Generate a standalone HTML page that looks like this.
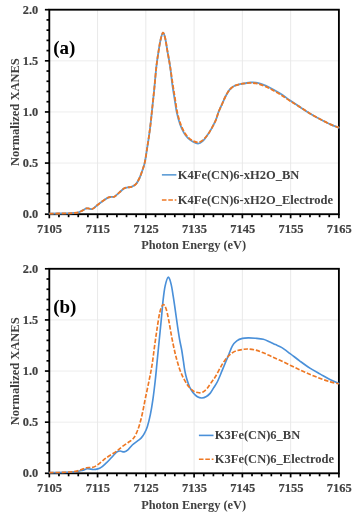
<!DOCTYPE html>
<html><head><meta charset="utf-8"><title>XANES</title>
<style>
html,body{margin:0;padding:0;background:#fff;}
svg{display:block;}
text{font-family:"Liberation Serif",serif;font-weight:bold;}
.g{stroke:#e3e3e3;stroke-width:0.8;}
.gh{stroke:#e9e9e9;stroke-width:0.8;}
.t{stroke:#000;stroke-width:1.7;}
.f{fill:none;stroke:#000;stroke-width:1.85;}
.tl{font-size:12.1px;fill:#404040;stroke:#404040;stroke-width:0.15px;}
.ti{font-size:12.35px;fill:#404040;}
.ty{font-size:13.3px;fill:#404040;}
.lg{font-size:12.5px;fill:#404040;}
.lab{font-size:19px;fill:#000;}
</style></head>
<body>
<svg width="357" height="517" viewBox="0 0 357 517">
<rect width="357" height="517" fill="#fff"/>
<line x1="97.57" y1="9.7" x2="97.57" y2="214.2" class="g"/>
<line x1="145.83" y1="9.7" x2="145.83" y2="214.2" class="g"/>
<line x1="194.10" y1="9.7" x2="194.10" y2="214.2" class="g"/>
<line x1="242.37" y1="9.7" x2="242.37" y2="214.2" class="g"/>
<line x1="290.63" y1="9.7" x2="290.63" y2="214.2" class="g"/>
<line x1="49.3" y1="163.07" x2="338.9" y2="163.07" class="gh"/>
<line x1="49.3" y1="111.95" x2="338.9" y2="111.95" class="gh"/>
<line x1="49.3" y1="60.82" x2="338.9" y2="60.82" class="gh"/>
<line x1="49.30" y1="214.2" x2="49.30" y2="218.30" class="t"/>
<line x1="58.95" y1="214.2" x2="58.95" y2="217.20" class="t"/>
<line x1="68.61" y1="214.2" x2="68.61" y2="217.20" class="t"/>
<line x1="78.26" y1="214.2" x2="78.26" y2="217.20" class="t"/>
<line x1="87.91" y1="214.2" x2="87.91" y2="217.20" class="t"/>
<line x1="97.57" y1="214.2" x2="97.57" y2="218.30" class="t"/>
<line x1="107.22" y1="214.2" x2="107.22" y2="217.20" class="t"/>
<line x1="116.87" y1="214.2" x2="116.87" y2="217.20" class="t"/>
<line x1="126.53" y1="214.2" x2="126.53" y2="217.20" class="t"/>
<line x1="136.18" y1="214.2" x2="136.18" y2="217.20" class="t"/>
<line x1="145.83" y1="214.2" x2="145.83" y2="218.30" class="t"/>
<line x1="155.49" y1="214.2" x2="155.49" y2="217.20" class="t"/>
<line x1="165.14" y1="214.2" x2="165.14" y2="217.20" class="t"/>
<line x1="174.79" y1="214.2" x2="174.79" y2="217.20" class="t"/>
<line x1="184.45" y1="214.2" x2="184.45" y2="217.20" class="t"/>
<line x1="194.10" y1="214.2" x2="194.10" y2="218.30" class="t"/>
<line x1="203.75" y1="214.2" x2="203.75" y2="217.20" class="t"/>
<line x1="213.41" y1="214.2" x2="213.41" y2="217.20" class="t"/>
<line x1="223.06" y1="214.2" x2="223.06" y2="217.20" class="t"/>
<line x1="232.71" y1="214.2" x2="232.71" y2="217.20" class="t"/>
<line x1="242.37" y1="214.2" x2="242.37" y2="218.30" class="t"/>
<line x1="252.02" y1="214.2" x2="252.02" y2="217.20" class="t"/>
<line x1="261.67" y1="214.2" x2="261.67" y2="217.20" class="t"/>
<line x1="271.33" y1="214.2" x2="271.33" y2="217.20" class="t"/>
<line x1="280.98" y1="214.2" x2="280.98" y2="217.20" class="t"/>
<line x1="290.63" y1="214.2" x2="290.63" y2="218.30" class="t"/>
<line x1="300.29" y1="214.2" x2="300.29" y2="217.20" class="t"/>
<line x1="309.94" y1="214.2" x2="309.94" y2="217.20" class="t"/>
<line x1="319.59" y1="214.2" x2="319.59" y2="217.20" class="t"/>
<line x1="329.25" y1="214.2" x2="329.25" y2="217.20" class="t"/>
<line x1="338.90" y1="214.2" x2="338.90" y2="218.30" class="t"/>
<line x1="44.90" y1="214.20" x2="49.3" y2="214.20" class="t"/>
<line x1="46.50" y1="203.97" x2="49.3" y2="203.97" class="t"/>
<line x1="46.50" y1="193.75" x2="49.3" y2="193.75" class="t"/>
<line x1="46.50" y1="183.52" x2="49.3" y2="183.52" class="t"/>
<line x1="46.50" y1="173.30" x2="49.3" y2="173.30" class="t"/>
<line x1="44.90" y1="163.07" x2="49.3" y2="163.07" class="t"/>
<line x1="46.50" y1="152.85" x2="49.3" y2="152.85" class="t"/>
<line x1="46.50" y1="142.62" x2="49.3" y2="142.62" class="t"/>
<line x1="46.50" y1="132.40" x2="49.3" y2="132.40" class="t"/>
<line x1="46.50" y1="122.17" x2="49.3" y2="122.17" class="t"/>
<line x1="44.90" y1="111.95" x2="49.3" y2="111.95" class="t"/>
<line x1="46.50" y1="101.72" x2="49.3" y2="101.72" class="t"/>
<line x1="46.50" y1="91.50" x2="49.3" y2="91.50" class="t"/>
<line x1="46.50" y1="81.27" x2="49.3" y2="81.27" class="t"/>
<line x1="46.50" y1="71.05" x2="49.3" y2="71.05" class="t"/>
<line x1="44.90" y1="60.82" x2="49.3" y2="60.82" class="t"/>
<line x1="46.50" y1="50.60" x2="49.3" y2="50.60" class="t"/>
<line x1="46.50" y1="40.38" x2="49.3" y2="40.38" class="t"/>
<line x1="46.50" y1="30.15" x2="49.3" y2="30.15" class="t"/>
<line x1="46.50" y1="19.92" x2="49.3" y2="19.92" class="t"/>
<line x1="44.90" y1="9.70" x2="49.3" y2="9.70" class="t"/>
<rect x="49.3" y="9.7" width="289.59999999999997" height="204.50" class="f"/>
<path d="M49.30,213.60 C51.95,213.57 61.08,213.50 65.20,213.40 C69.32,213.30 71.78,213.18 74.00,213.00 C76.22,212.82 77.12,212.70 78.50,212.30 C79.88,211.90 81.00,211.25 82.30,210.60 C83.60,209.95 85.18,208.73 86.30,208.40 C87.42,208.07 88.08,208.47 89.00,208.60 C89.92,208.73 90.88,209.37 91.80,209.20 C92.72,209.03 93.50,208.35 94.50,207.60 C95.50,206.85 96.17,205.98 97.80,204.70 C99.43,203.42 102.50,201.12 104.30,199.90 C106.10,198.68 107.40,197.90 108.60,197.40 C109.80,196.90 110.48,197.05 111.50,196.90 C112.52,196.75 113.42,197.22 114.70,196.50 C115.98,195.78 117.60,193.97 119.20,192.60 C120.80,191.23 122.88,189.17 124.30,188.30 C125.72,187.43 126.52,187.65 127.70,187.40 C128.88,187.15 130.03,187.35 131.40,186.80 C132.77,186.25 134.58,185.48 135.90,184.10 C137.22,182.72 138.22,180.78 139.30,178.50 C140.38,176.22 141.48,173.08 142.40,170.40 C143.32,167.72 144.07,165.75 144.80,162.40 C145.53,159.05 146.10,154.68 146.80,150.30 C147.50,145.92 148.33,140.82 149.00,136.10 C149.67,131.38 150.27,126.57 150.80,122.00 C151.33,117.43 151.62,114.27 152.20,108.70 C152.78,103.13 153.60,95.65 154.30,88.60 C155.00,81.55 155.67,72.78 156.40,66.40 C157.13,60.02 157.98,54.83 158.70,50.30 C159.42,45.77 159.98,42.15 160.70,39.20 C161.42,36.25 162.25,32.77 163.00,32.60 C163.75,32.43 164.48,35.25 165.20,38.20 C165.92,41.15 166.48,45.60 167.30,50.30 C168.12,55.00 169.25,60.60 170.10,66.40 C170.95,72.20 171.65,79.67 172.40,85.10 C173.15,90.53 173.87,94.42 174.60,99.00 C175.33,103.58 175.87,108.32 176.80,112.60 C177.73,116.88 178.98,121.28 180.20,124.70 C181.42,128.12 182.80,130.85 184.10,133.10 C185.40,135.35 186.60,136.80 188.00,138.20 C189.40,139.60 190.83,140.60 192.50,141.50 C194.17,142.40 196.30,143.67 198.00,143.60 C199.70,143.53 201.15,142.48 202.70,141.10 C204.25,139.72 205.83,137.38 207.30,135.30 C208.77,133.22 210.10,131.08 211.50,128.60 C212.90,126.12 214.53,123.13 215.70,120.40 C216.87,117.67 217.40,115.00 218.50,112.20 C219.60,109.40 221.22,106.05 222.30,103.60 C223.38,101.15 224.10,99.37 225.00,97.50 C225.90,95.63 226.73,93.90 227.70,92.40 C228.67,90.90 229.63,89.62 230.80,88.50 C231.97,87.38 233.22,86.42 234.70,85.70 C236.18,84.98 237.98,84.60 239.70,84.20 C241.42,83.80 243.23,83.58 245.00,83.30 C246.77,83.02 248.20,82.58 250.30,82.50 C252.40,82.42 255.05,82.28 257.60,82.80 C260.15,83.32 262.92,84.45 265.60,85.60 C268.28,86.75 271.00,88.22 273.70,89.70 C276.40,91.18 279.05,92.68 281.80,94.50 C284.55,96.32 287.13,98.48 290.20,100.60 C293.27,102.72 296.85,105.02 300.20,107.20 C303.55,109.38 306.95,111.68 310.30,113.70 C313.65,115.72 316.95,117.52 320.30,119.30 C323.65,121.08 327.30,123.00 330.40,124.40 C333.50,125.80 337.48,127.15 338.90,127.70" fill="none" stroke="#5b9bd5" stroke-width="1.8" stroke-linecap="round"/>
<path d="M49.30,213.60 C51.95,213.57 61.08,213.50 65.20,213.40 C69.32,213.30 71.78,213.18 74.00,213.00 C76.22,212.82 77.12,212.70 78.50,212.30 C79.88,211.90 81.00,211.25 82.30,210.60 C83.60,209.95 85.18,208.73 86.30,208.40 C87.42,208.07 88.08,208.47 89.00,208.60 C89.92,208.73 90.88,209.37 91.80,209.20 C92.72,209.03 93.50,208.35 94.50,207.60 C95.50,206.85 96.17,205.98 97.80,204.70 C99.43,203.42 102.50,201.12 104.30,199.90 C106.10,198.68 107.40,197.90 108.60,197.40 C109.80,196.90 110.48,197.05 111.50,196.90 C112.52,196.75 113.42,197.22 114.70,196.50 C115.98,195.78 117.60,193.97 119.20,192.60 C120.80,191.23 122.88,189.17 124.30,188.30 C125.72,187.43 126.52,187.65 127.70,187.40 C128.88,187.15 130.03,187.35 131.40,186.80 C132.77,186.25 134.58,185.48 135.90,184.10 C137.22,182.72 138.22,180.78 139.30,178.50 C140.38,176.22 141.48,173.08 142.40,170.40 C143.32,167.72 144.07,165.75 144.80,162.40 C145.53,159.05 146.10,154.68 146.80,150.30 C147.50,145.92 148.33,140.82 149.00,136.10 C149.67,131.38 150.27,126.57 150.80,122.00 C151.33,117.43 151.62,114.27 152.20,108.70 C152.78,103.13 153.60,95.65 154.30,88.60 C155.00,81.55 155.67,72.78 156.40,66.40 C157.13,60.02 157.98,54.83 158.70,50.30 C159.42,45.77 159.98,42.15 160.70,39.20 C161.42,36.25 162.25,32.77 163.00,32.60 C163.75,32.43 164.48,35.25 165.20,38.20 C165.92,41.15 166.48,45.60 167.30,50.30 C168.12,55.00 169.18,60.70 170.10,66.40 C171.02,72.10 171.98,79.17 172.80,84.50 C173.62,89.83 174.27,93.82 175.00,98.40 C175.73,102.98 176.27,107.72 177.20,112.00 C178.13,116.28 179.38,120.68 180.60,124.10 C181.82,127.52 183.20,130.25 184.50,132.50 C185.80,134.75 187.00,136.20 188.40,137.60 C189.80,139.00 191.30,140.12 192.90,140.90 C194.50,141.68 196.40,142.38 198.00,142.30 C199.60,142.22 200.95,141.57 202.50,140.40 C204.05,139.23 205.80,137.27 207.30,135.30 C208.80,133.33 210.10,131.08 211.50,128.60 C212.90,126.12 214.53,123.13 215.70,120.40 C216.87,117.67 217.40,115.00 218.50,112.20 C219.60,109.40 221.22,106.05 222.30,103.60 C223.38,101.15 224.10,99.37 225.00,97.50 C225.90,95.63 226.73,93.90 227.70,92.40 C228.67,90.90 229.63,89.62 230.80,88.50 C231.97,87.38 233.22,86.42 234.70,85.70 C236.18,84.98 237.98,84.60 239.70,84.20 C241.42,83.80 243.25,83.52 245.00,83.30 C246.75,83.08 248.15,82.85 250.20,82.90 C252.25,82.95 254.78,83.02 257.30,83.60 C259.82,84.18 262.62,85.25 265.30,86.40 C267.98,87.55 270.70,89.02 273.40,90.50 C276.10,91.98 278.72,93.55 281.50,95.30 C284.28,97.05 286.98,99.02 290.10,101.00 C293.22,102.98 296.83,105.08 300.20,107.20 C303.57,109.32 306.95,111.68 310.30,113.70 C313.65,115.72 316.95,117.52 320.30,119.30 C323.65,121.08 327.30,123.00 330.40,124.40 C333.50,125.80 337.48,127.15 338.90,127.70" fill="none" stroke="#ee7824" stroke-width="1.8" stroke-dasharray="4.4 1.8"/>
<text transform="translate(38.2,218.20) scale(1.02,1)" text-anchor="end" class="tl">0.0</text>
<text transform="translate(38.2,167.07) scale(1.02,1)" text-anchor="end" class="tl">0.5</text>
<text transform="translate(38.2,115.95) scale(1.02,1)" text-anchor="end" class="tl">1.0</text>
<text transform="translate(38.2,64.82) scale(1.02,1)" text-anchor="end" class="tl">1.5</text>
<text transform="translate(38.2,13.70) scale(1.02,1)" text-anchor="end" class="tl">2.0</text>
<text transform="translate(49.60,233.20) scale(1.035,1)" text-anchor="middle" class="tl">7105</text>
<text transform="translate(97.87,233.20) scale(1.035,1)" text-anchor="middle" class="tl">7115</text>
<text transform="translate(146.13,233.20) scale(1.035,1)" text-anchor="middle" class="tl">7125</text>
<text transform="translate(194.40,233.20) scale(1.035,1)" text-anchor="middle" class="tl">7135</text>
<text transform="translate(242.67,233.20) scale(1.035,1)" text-anchor="middle" class="tl">7145</text>
<text transform="translate(290.93,233.20) scale(1.035,1)" text-anchor="middle" class="tl">7155</text>
<text transform="translate(339.20,233.20) scale(1.035,1)" text-anchor="middle" class="tl">7165</text>
<text x="193.6" y="249.40" text-anchor="middle" class="ti">Photon Energy (eV)</text>
<text transform="translate(18.8,112.20) rotate(-90) scale(0.94,1)" text-anchor="middle" class="ty">Normalized XANES</text>
<text x="53.2" y="53.50" class="lab">(a)</text>
<line x1="161.9" y1="174.85" x2="176.4" y2="174.85" stroke="#5b9bd5" stroke-width="1.6"/>
<text x="177.8" y="178.9" class="lg">K4Fe(CN)6-xH2O_BN</text>
<line x1="161.9" y1="200.05" x2="176.4" y2="200.05" stroke="#ee7824" stroke-width="1.6" stroke-dasharray="4.6 1.8"/>
<text x="177.8" y="204.1" class="lg">K4Fe(CN)6-xH2O_Electrode</text>
<line x1="97.57" y1="268.8" x2="97.57" y2="473.3" class="g"/>
<line x1="145.83" y1="268.8" x2="145.83" y2="473.3" class="g"/>
<line x1="194.10" y1="268.8" x2="194.10" y2="473.3" class="g"/>
<line x1="242.37" y1="268.8" x2="242.37" y2="473.3" class="g"/>
<line x1="290.63" y1="268.8" x2="290.63" y2="473.3" class="g"/>
<line x1="49.3" y1="422.18" x2="338.9" y2="422.18" class="gh"/>
<line x1="49.3" y1="371.05" x2="338.9" y2="371.05" class="gh"/>
<line x1="49.3" y1="319.93" x2="338.9" y2="319.93" class="gh"/>
<line x1="49.30" y1="473.3" x2="49.30" y2="477.40" class="t"/>
<line x1="58.95" y1="473.3" x2="58.95" y2="476.30" class="t"/>
<line x1="68.61" y1="473.3" x2="68.61" y2="476.30" class="t"/>
<line x1="78.26" y1="473.3" x2="78.26" y2="476.30" class="t"/>
<line x1="87.91" y1="473.3" x2="87.91" y2="476.30" class="t"/>
<line x1="97.57" y1="473.3" x2="97.57" y2="477.40" class="t"/>
<line x1="107.22" y1="473.3" x2="107.22" y2="476.30" class="t"/>
<line x1="116.87" y1="473.3" x2="116.87" y2="476.30" class="t"/>
<line x1="126.53" y1="473.3" x2="126.53" y2="476.30" class="t"/>
<line x1="136.18" y1="473.3" x2="136.18" y2="476.30" class="t"/>
<line x1="145.83" y1="473.3" x2="145.83" y2="477.40" class="t"/>
<line x1="155.49" y1="473.3" x2="155.49" y2="476.30" class="t"/>
<line x1="165.14" y1="473.3" x2="165.14" y2="476.30" class="t"/>
<line x1="174.79" y1="473.3" x2="174.79" y2="476.30" class="t"/>
<line x1="184.45" y1="473.3" x2="184.45" y2="476.30" class="t"/>
<line x1="194.10" y1="473.3" x2="194.10" y2="477.40" class="t"/>
<line x1="203.75" y1="473.3" x2="203.75" y2="476.30" class="t"/>
<line x1="213.41" y1="473.3" x2="213.41" y2="476.30" class="t"/>
<line x1="223.06" y1="473.3" x2="223.06" y2="476.30" class="t"/>
<line x1="232.71" y1="473.3" x2="232.71" y2="476.30" class="t"/>
<line x1="242.37" y1="473.3" x2="242.37" y2="477.40" class="t"/>
<line x1="252.02" y1="473.3" x2="252.02" y2="476.30" class="t"/>
<line x1="261.67" y1="473.3" x2="261.67" y2="476.30" class="t"/>
<line x1="271.33" y1="473.3" x2="271.33" y2="476.30" class="t"/>
<line x1="280.98" y1="473.3" x2="280.98" y2="476.30" class="t"/>
<line x1="290.63" y1="473.3" x2="290.63" y2="477.40" class="t"/>
<line x1="300.29" y1="473.3" x2="300.29" y2="476.30" class="t"/>
<line x1="309.94" y1="473.3" x2="309.94" y2="476.30" class="t"/>
<line x1="319.59" y1="473.3" x2="319.59" y2="476.30" class="t"/>
<line x1="329.25" y1="473.3" x2="329.25" y2="476.30" class="t"/>
<line x1="338.90" y1="473.3" x2="338.90" y2="477.40" class="t"/>
<line x1="44.90" y1="473.30" x2="49.3" y2="473.30" class="t"/>
<line x1="46.50" y1="463.07" x2="49.3" y2="463.07" class="t"/>
<line x1="46.50" y1="452.85" x2="49.3" y2="452.85" class="t"/>
<line x1="46.50" y1="442.62" x2="49.3" y2="442.62" class="t"/>
<line x1="46.50" y1="432.40" x2="49.3" y2="432.40" class="t"/>
<line x1="44.90" y1="422.18" x2="49.3" y2="422.18" class="t"/>
<line x1="46.50" y1="411.95" x2="49.3" y2="411.95" class="t"/>
<line x1="46.50" y1="401.73" x2="49.3" y2="401.73" class="t"/>
<line x1="46.50" y1="391.50" x2="49.3" y2="391.50" class="t"/>
<line x1="46.50" y1="381.27" x2="49.3" y2="381.27" class="t"/>
<line x1="44.90" y1="371.05" x2="49.3" y2="371.05" class="t"/>
<line x1="46.50" y1="360.83" x2="49.3" y2="360.83" class="t"/>
<line x1="46.50" y1="350.60" x2="49.3" y2="350.60" class="t"/>
<line x1="46.50" y1="340.38" x2="49.3" y2="340.38" class="t"/>
<line x1="46.50" y1="330.15" x2="49.3" y2="330.15" class="t"/>
<line x1="44.90" y1="319.93" x2="49.3" y2="319.93" class="t"/>
<line x1="46.50" y1="309.70" x2="49.3" y2="309.70" class="t"/>
<line x1="46.50" y1="299.48" x2="49.3" y2="299.48" class="t"/>
<line x1="46.50" y1="289.25" x2="49.3" y2="289.25" class="t"/>
<line x1="46.50" y1="279.02" x2="49.3" y2="279.02" class="t"/>
<line x1="44.90" y1="268.80" x2="49.3" y2="268.80" class="t"/>
<rect x="49.3" y="268.8" width="289.59999999999997" height="204.50" class="f"/>
<path d="M49.30,472.60 C51.95,472.57 60.87,472.53 65.20,472.40 C69.53,472.27 72.45,472.13 75.30,471.80 C78.15,471.47 80.28,470.90 82.30,470.40 C84.32,469.90 85.55,468.95 87.40,468.80 C89.25,468.65 91.67,469.48 93.40,469.50 C95.13,469.52 96.45,469.30 97.80,468.90 C99.15,468.50 100.22,467.97 101.50,467.10 C102.78,466.23 104.17,464.93 105.50,463.70 C106.83,462.47 108.15,461.12 109.50,459.70 C110.85,458.28 112.33,456.52 113.60,455.20 C114.87,453.88 116.00,452.50 117.10,451.80 C118.20,451.10 119.02,450.98 120.20,451.00 C121.38,451.02 122.87,452.13 124.20,451.90 C125.53,451.67 126.85,450.75 128.20,449.60 C129.55,448.45 130.78,446.42 132.30,445.00 C133.82,443.58 135.80,442.28 137.30,441.10 C138.80,439.92 140.12,439.18 141.30,437.90 C142.48,436.62 143.38,435.32 144.40,433.40 C145.42,431.48 146.40,429.58 147.40,426.40 C148.40,423.22 149.50,418.67 150.40,414.30 C151.30,409.93 151.98,405.92 152.80,400.20 C153.62,394.48 154.57,386.58 155.30,380.00 C156.03,373.42 156.55,367.28 157.20,360.70 C157.85,354.12 158.53,347.22 159.20,340.50 C159.87,333.78 160.55,327.12 161.20,320.40 C161.85,313.68 162.45,305.92 163.10,300.20 C163.75,294.48 164.25,289.93 165.10,286.10 C165.95,282.27 167.20,277.53 168.20,277.20 C169.20,276.87 170.27,280.93 171.10,284.10 C171.93,287.27 172.50,291.83 173.20,296.20 C173.90,300.57 174.58,305.33 175.30,310.30 C176.02,315.27 176.78,321.13 177.50,326.00 C178.22,330.87 178.90,335.50 179.60,339.50 C180.30,343.50 181.07,346.38 181.70,350.00 C182.33,353.62 182.88,357.75 183.40,361.20 C183.92,364.65 184.23,367.72 184.80,370.70 C185.37,373.68 186.00,376.38 186.80,379.10 C187.60,381.82 188.58,384.75 189.60,387.00 C190.62,389.25 191.60,390.97 192.90,392.60 C194.20,394.23 195.90,395.90 197.40,396.80 C198.90,397.70 200.40,398.05 201.90,398.00 C203.40,397.95 205.00,397.32 206.40,396.50 C207.80,395.68 209.10,394.53 210.30,393.10 C211.50,391.67 212.40,389.83 213.60,387.90 C214.80,385.97 216.07,384.42 217.50,381.50 C218.93,378.58 220.80,373.73 222.20,370.40 C223.60,367.07 224.77,364.23 225.90,361.50 C227.03,358.77 227.92,356.62 229.00,354.00 C230.08,351.38 231.10,348.00 232.40,345.80 C233.70,343.60 235.12,342.03 236.80,340.80 C238.48,339.57 240.55,338.88 242.50,338.40 C244.45,337.92 246.37,337.92 248.50,337.90 C250.63,337.88 252.83,338.07 255.30,338.30 C257.77,338.53 260.95,338.72 263.30,339.30 C265.65,339.88 267.38,340.92 269.40,341.80 C271.42,342.68 273.38,343.67 275.40,344.60 C277.42,345.53 279.05,345.90 281.50,347.40 C283.95,348.90 286.98,351.28 290.10,353.60 C293.22,355.92 296.83,358.83 300.20,361.30 C303.57,363.77 306.95,366.27 310.30,368.40 C313.65,370.53 316.95,372.22 320.30,374.10 C323.65,375.98 327.30,378.15 330.40,379.70 C333.50,381.25 337.48,382.78 338.90,383.40" fill="none" stroke="#4a90d9" stroke-width="1.65" stroke-linecap="round"/>
<path d="M49.30,472.60 C51.95,472.55 60.87,472.50 65.20,472.30 C69.53,472.10 72.62,471.85 75.30,471.40 C77.98,470.95 79.47,470.22 81.30,469.60 C83.13,468.98 84.45,468.07 86.30,467.70 C88.15,467.33 90.72,467.73 92.40,467.40 C94.08,467.07 94.88,466.65 96.40,465.70 C97.92,464.75 99.98,462.92 101.50,461.70 C103.02,460.48 103.98,459.52 105.50,458.40 C107.02,457.28 108.67,456.27 110.60,455.00 C112.53,453.73 115.17,452.20 117.10,450.80 C119.03,449.40 120.35,447.98 122.20,446.60 C124.05,445.22 126.35,443.85 128.20,442.50 C130.05,441.15 131.95,440.02 133.30,438.50 C134.65,436.98 135.30,435.58 136.30,433.40 C137.30,431.22 138.28,428.75 139.30,425.40 C140.32,422.05 141.38,417.83 142.40,413.30 C143.42,408.77 144.27,403.75 145.40,398.20 C146.53,392.65 148.08,385.58 149.20,380.00 C150.32,374.42 151.22,370.27 152.10,364.70 C152.98,359.13 153.72,352.30 154.50,346.60 C155.28,340.90 156.05,335.55 156.80,330.50 C157.55,325.45 158.30,320.00 159.00,316.30 C159.70,312.60 160.28,310.27 161.00,308.30 C161.72,306.33 162.48,304.50 163.30,304.50 C164.12,304.50 165.03,305.88 165.90,308.30 C166.77,310.72 167.53,314.22 168.50,319.00 C169.47,323.78 170.62,331.37 171.70,337.00 C172.78,342.63 174.08,348.77 175.00,352.80 C175.92,356.83 176.37,358.30 177.20,361.20 C178.03,364.10 178.97,367.40 180.00,370.20 C181.03,373.00 182.18,375.58 183.40,378.00 C184.62,380.42 186.08,382.92 187.30,384.70 C188.52,386.48 189.48,387.53 190.70,388.70 C191.92,389.87 193.20,391.02 194.60,391.70 C196.00,392.38 197.70,392.75 199.10,392.80 C200.50,392.85 201.70,392.68 203.00,392.00 C204.30,391.32 205.58,390.18 206.90,388.70 C208.22,387.22 209.47,385.13 210.90,383.10 C212.33,381.07 213.72,379.45 215.50,376.50 C217.28,373.55 219.67,368.57 221.60,365.40 C223.53,362.23 225.37,359.57 227.10,357.50 C228.83,355.43 230.35,354.15 232.00,353.00 C233.65,351.85 235.13,351.20 237.00,350.60 C238.87,350.00 241.33,349.67 243.20,349.40 C245.07,349.13 246.18,348.90 248.20,349.00 C250.22,349.10 252.78,349.37 255.30,350.00 C257.82,350.63 260.62,351.72 263.30,352.80 C265.98,353.88 268.62,355.25 271.40,356.50 C274.18,357.75 276.88,358.85 280.00,360.30 C283.12,361.75 286.73,363.58 290.10,365.20 C293.47,366.82 296.83,368.45 300.20,370.00 C303.57,371.55 306.95,373.08 310.30,374.50 C313.65,375.92 316.95,377.27 320.30,378.50 C323.65,379.73 327.30,381.02 330.40,381.90 C333.50,382.78 337.48,383.48 338.90,383.80" fill="none" stroke="#ee7824" stroke-width="1.65" stroke-dasharray="4.4 1.8"/>
<text transform="translate(38.2,477.30) scale(1.02,1)" text-anchor="end" class="tl">0.0</text>
<text transform="translate(38.2,426.18) scale(1.02,1)" text-anchor="end" class="tl">0.5</text>
<text transform="translate(38.2,375.05) scale(1.02,1)" text-anchor="end" class="tl">1.0</text>
<text transform="translate(38.2,323.93) scale(1.02,1)" text-anchor="end" class="tl">1.5</text>
<text transform="translate(38.2,272.80) scale(1.02,1)" text-anchor="end" class="tl">2.0</text>
<text transform="translate(49.60,492.30) scale(1.035,1)" text-anchor="middle" class="tl">7105</text>
<text transform="translate(97.87,492.30) scale(1.035,1)" text-anchor="middle" class="tl">7115</text>
<text transform="translate(146.13,492.30) scale(1.035,1)" text-anchor="middle" class="tl">7125</text>
<text transform="translate(194.40,492.30) scale(1.035,1)" text-anchor="middle" class="tl">7135</text>
<text transform="translate(242.67,492.30) scale(1.035,1)" text-anchor="middle" class="tl">7145</text>
<text transform="translate(290.93,492.30) scale(1.035,1)" text-anchor="middle" class="tl">7155</text>
<text transform="translate(339.20,492.30) scale(1.035,1)" text-anchor="middle" class="tl">7165</text>
<text x="193.6" y="508.50" text-anchor="middle" class="ti">Photon Energy (eV)</text>
<text transform="translate(18.8,371.30) rotate(-90) scale(0.94,1)" text-anchor="middle" class="ty">Normalized XANES</text>
<text x="53.2" y="312.60" class="lab">(b)</text>
<line x1="198.9" y1="435.4" x2="213.5" y2="435.4" stroke="#4a90d9" stroke-width="1.6"/>
<text x="214.8" y="439.1" class="lg">K3Fe(CN)6_BN</text>
<line x1="198.9" y1="459.2" x2="213.5" y2="459.2" stroke="#ee7824" stroke-width="1.6" stroke-dasharray="4.6 1.8"/>
<text x="214.8" y="463.3" class="lg">K3Fe(CN)6_Electrode</text>
</svg>
</body></html>
